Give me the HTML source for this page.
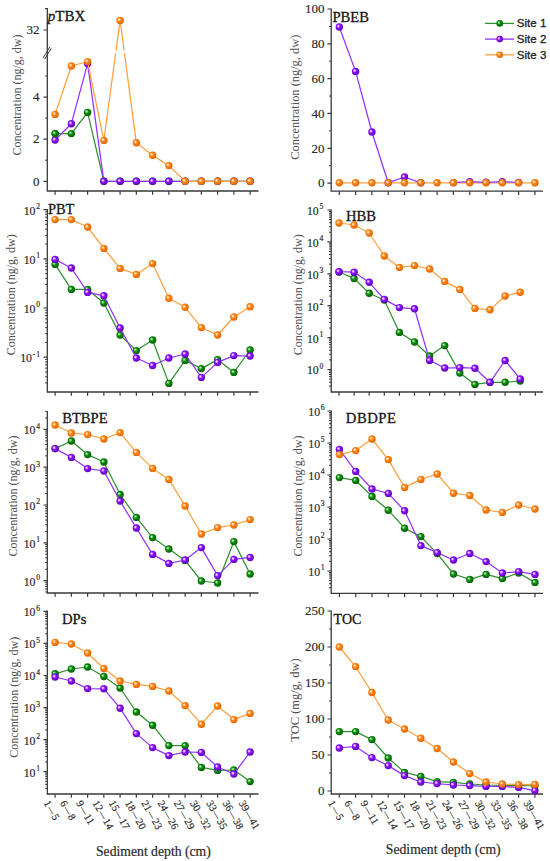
<!DOCTYPE html><html><head><meta charset="utf-8"><style>html,body{margin:0;padding:0;background:#fff;}svg{display:block;}</style></head><body>
<svg width="550" height="861" viewBox="0 0 550 861" font-family='"Liberation Serif", serif' fill="#262626">
<style>.t{fill:#2a2a2a;stroke:#2a2a2a;stroke-width:0.18px}.yt{fill:#505050}.pt{fill:#151515;stroke:#151515;stroke-width:0.3px}.lg{fill:#222;stroke:#222;stroke-width:0.3px}.xt{fill:#2a2a2a;stroke:#2a2a2a;stroke-width:0.2px}</style>
<defs>
<radialGradient id="gG" cx="0.45" cy="0.45" r="0.6" fx="0.34" fy="0.36"><stop offset="0" stop-color="#ffffff"/><stop offset="0.12" stop-color="#9fe09f"/><stop offset="0.42" stop-color="#0c8c0c"/><stop offset="1" stop-color="#005a00"/></radialGradient>
<radialGradient id="gP" cx="0.45" cy="0.45" r="0.6" fx="0.34" fy="0.36"><stop offset="0" stop-color="#ffffff"/><stop offset="0.12" stop-color="#e6c8ff"/><stop offset="0.42" stop-color="#8a12ff"/><stop offset="1" stop-color="#5a00b0"/></radialGradient>
<radialGradient id="gO" cx="0.45" cy="0.45" r="0.6" fx="0.34" fy="0.36"><stop offset="0" stop-color="#ffffff"/><stop offset="0.12" stop-color="#ffe2c0"/><stop offset="0.42" stop-color="#ff8410"/><stop offset="1" stop-color="#e06000"/></radialGradient>
</defs>
<rect width="550" height="861" fill="#fff"/>
<path d="M47.3 8V191H258.5" fill="none" stroke="#3a3a3a" stroke-width="1.3"/>
<path d="M55.1 191v3.8M71.35 191v3.8M87.6 191v3.8M103.85 191v3.8M120.1 191v3.8M136.35 191v3.8M152.6 191v3.8M168.85 191v3.8M185.1 191v3.8M201.35 191v3.8M217.6 191v3.8M233.85 191v3.8M250.1 191v3.8" stroke="#3a3a3a" stroke-width="1.2"/>
<path d="M47.3 181.3h-3.8M47.3 139.2h-3.8M47.3 97.1h-3.8M47.3 30h-3.8" stroke="#3a3a3a" stroke-width="1.2"/>
<path d="M47.3 160.2h-2.2M47.3 118.1h-2.2M47.3 76h-2.2" stroke="#3a3a3a" stroke-width="1"/>
<text class="t" x="39.4" y="185.59" font-size="13" text-anchor="end">0</text>
<text class="t" x="39.4" y="143.49" font-size="13" text-anchor="end">2</text>
<text class="t" x="39.4" y="101.39" font-size="13" text-anchor="end">4</text>
<text class="t" x="39.4" y="34.29" font-size="13" text-anchor="end">32</text>
<text transform="translate(21 95) rotate(-90)" font-size="12" text-anchor="middle" class="yt">Concentration (ng/g, dw)</text>
<text class="pt" x="47.8" y="21.2" font-size="15" letter-spacing="0"><tspan font-style="italic">p</tspan><tspan font-style="normal">TBX</tspan></text>
<path d="M55.1 133.6 L71.35 133.6 L87.6 112.4 L103.85 181.3 L120.1 181.3 L136.35 181.3 L152.6 181.3 L168.85 181.3 L185.1 181.3 L201.35 181.3 L217.6 181.3 L233.85 181.3 L250.1 181.3" fill="none" stroke="#2f922f" stroke-width="1.25" stroke-linejoin="round"/>
<circle cx="55.1" cy="133.6" r="3.7" fill="url(#gG)"/>
<circle cx="71.35" cy="133.6" r="3.7" fill="url(#gG)"/>
<circle cx="87.6" cy="112.4" r="3.7" fill="url(#gG)"/>
<circle cx="103.85" cy="181.3" r="3.7" fill="url(#gG)"/>
<circle cx="120.1" cy="181.3" r="3.7" fill="url(#gG)"/>
<circle cx="136.35" cy="181.3" r="3.7" fill="url(#gG)"/>
<circle cx="152.6" cy="181.3" r="3.7" fill="url(#gG)"/>
<circle cx="168.85" cy="181.3" r="3.7" fill="url(#gG)"/>
<circle cx="185.1" cy="181.3" r="3.7" fill="url(#gG)"/>
<circle cx="201.35" cy="181.3" r="3.7" fill="url(#gG)"/>
<circle cx="217.6" cy="181.3" r="3.7" fill="url(#gG)"/>
<circle cx="233.85" cy="181.3" r="3.7" fill="url(#gG)"/>
<circle cx="250.1" cy="181.3" r="3.7" fill="url(#gG)"/>
<path d="M55.1 140 L71.35 123.7 L87.6 63.6 L103.85 181.3 L120.1 181.3 L136.35 181.3 L152.6 181.3 L168.85 181.3 L185.1 181.3 L201.35 181.3 L217.6 181.3 L233.85 181.3 L250.1 181.3" fill="none" stroke="#9233ff" stroke-width="1.25" stroke-linejoin="round"/>
<circle cx="55.1" cy="140" r="3.7" fill="url(#gP)"/>
<circle cx="71.35" cy="123.7" r="3.7" fill="url(#gP)"/>
<circle cx="87.6" cy="63.6" r="3.7" fill="url(#gP)"/>
<circle cx="103.85" cy="181.3" r="3.7" fill="url(#gP)"/>
<circle cx="120.1" cy="181.3" r="3.7" fill="url(#gP)"/>
<circle cx="136.35" cy="181.3" r="3.7" fill="url(#gP)"/>
<circle cx="152.6" cy="181.3" r="3.7" fill="url(#gP)"/>
<circle cx="168.85" cy="181.3" r="3.7" fill="url(#gP)"/>
<circle cx="185.1" cy="181.3" r="3.7" fill="url(#gP)"/>
<circle cx="201.35" cy="181.3" r="3.7" fill="url(#gP)"/>
<circle cx="217.6" cy="181.3" r="3.7" fill="url(#gP)"/>
<circle cx="233.85" cy="181.3" r="3.7" fill="url(#gP)"/>
<circle cx="250.1" cy="181.3" r="3.7" fill="url(#gP)"/>
<path d="M55.1 114.4 L71.35 66 L87.6 61.6 L103.85 140.4 L120.1 20.4 L136.35 142.8 L152.6 155.2 L168.85 165.6 L185.1 181.3 L201.35 181.3 L217.6 181.3 L233.85 181.3 L250.1 181.3" fill="none" stroke="#ffa040" stroke-width="1.25" stroke-linejoin="round"/>
<circle cx="55.1" cy="114.4" r="3.7" fill="url(#gO)"/>
<circle cx="71.35" cy="66" r="3.7" fill="url(#gO)"/>
<circle cx="87.6" cy="61.6" r="3.7" fill="url(#gO)"/>
<circle cx="103.85" cy="140.4" r="3.7" fill="url(#gO)"/>
<circle cx="120.1" cy="20.4" r="3.7" fill="url(#gO)"/>
<circle cx="136.35" cy="142.8" r="3.7" fill="url(#gO)"/>
<circle cx="152.6" cy="155.2" r="3.7" fill="url(#gO)"/>
<circle cx="168.85" cy="165.6" r="3.7" fill="url(#gO)"/>
<circle cx="185.1" cy="181.3" r="3.7" fill="url(#gO)"/>
<circle cx="201.35" cy="181.3" r="3.7" fill="url(#gO)"/>
<circle cx="217.6" cy="181.3" r="3.7" fill="url(#gO)"/>
<circle cx="233.85" cy="181.3" r="3.7" fill="url(#gO)"/>
<circle cx="250.1" cy="181.3" r="3.7" fill="url(#gO)"/>
<circle cx="55.1" cy="133.6" r="3.7" fill="url(#gG)"/>
<path d="M43.2 57.8L49.8 47M44.6 59.2L51.2 48.4" stroke="#3a3a3a" stroke-width="1"/>
<path d="M45 8.6H47.3" stroke="#3a3a3a" stroke-width="1.2"/>
<rect x="106" y="50.4" width="26" height="2.8" fill="#fff"/>
<path d="M331.2 8.5V191.2H543" fill="none" stroke="#3a3a3a" stroke-width="1.3"/>
<path d="M339.3 191.2v3.8M355.6 191.2v3.8M371.9 191.2v3.8M388.2 191.2v3.8M404.5 191.2v3.8M420.8 191.2v3.8M437.1 191.2v3.8M453.4 191.2v3.8M469.7 191.2v3.8M486 191.2v3.8M502.3 191.2v3.8M518.6 191.2v3.8M534.9 191.2v3.8" stroke="#3a3a3a" stroke-width="1.2"/>
<path d="M331.2 183.1h-3.8M331.2 148.28h-3.8M331.2 113.46h-3.8M331.2 78.64h-3.8M331.2 43.82h-3.8M331.2 9h-3.8" stroke="#3a3a3a" stroke-width="1.2"/>
<path d="M331.2 165.69h-2.2M331.2 130.87h-2.2M331.2 96.05h-2.2M331.2 61.23h-2.2M331.2 26.41h-2.2" stroke="#3a3a3a" stroke-width="1"/>
<text class="t" x="324.6" y="187.39" font-size="13" text-anchor="end">0</text>
<text class="t" x="324.6" y="152.57" font-size="13" text-anchor="end">20</text>
<text class="t" x="324.6" y="117.75" font-size="13" text-anchor="end">40</text>
<text class="t" x="324.6" y="82.93" font-size="13" text-anchor="end">60</text>
<text class="t" x="324.6" y="48.11" font-size="13" text-anchor="end">80</text>
<text class="t" x="324.6" y="13.29" font-size="13" text-anchor="end">100</text>
<text transform="translate(299 97.2) rotate(-90)" font-size="12.4" text-anchor="middle" class="yt">Concentration (ng/g, dw)</text>
<text class="pt" x="332.4" y="22" font-size="14.6" letter-spacing="0"><tspan font-style="normal">PBEB</tspan></text>
<path d="M339.3 182.8 L355.6 182.8 L371.9 182.8 L388.2 182.8 L404.5 182.8 L420.8 182.8 L437.1 182.8 L453.4 182.8 L469.7 182.8 L486 182.8 L502.3 182.8 L518.6 182.8 L534.9 182.8" fill="none" stroke="#ffa040" stroke-width="1.25" stroke-linejoin="round"/>
<path d="M339.3 27 L355.6 71.4 L371.9 132 L388.2 182.8 L404.5 177 L420.8 182.8M453.4 182.6 L469.7 181.6 L486 182.3 L502.3 181.6 L518.6 182.5" fill="none" stroke="#9233ff" stroke-width="1.25" stroke-linejoin="round"/>
<circle cx="339.3" cy="27" r="3.7" fill="url(#gP)"/>
<circle cx="355.6" cy="71.4" r="3.7" fill="url(#gP)"/>
<circle cx="371.9" cy="132" r="3.7" fill="url(#gP)"/>
<circle cx="388.2" cy="182.8" r="3.7" fill="url(#gP)"/>
<circle cx="404.5" cy="177" r="3.7" fill="url(#gP)"/>
<circle cx="420.8" cy="182.8" r="3.7" fill="url(#gP)"/>
<circle cx="453.4" cy="182.6" r="3.7" fill="url(#gP)"/>
<circle cx="469.7" cy="181.6" r="3.7" fill="url(#gP)"/>
<circle cx="486" cy="182.3" r="3.7" fill="url(#gP)"/>
<circle cx="502.3" cy="181.6" r="3.7" fill="url(#gP)"/>
<circle cx="518.6" cy="182.5" r="3.7" fill="url(#gP)"/>
<circle cx="339.3" cy="182.8" r="3.7" fill="url(#gO)"/>
<circle cx="355.6" cy="182.8" r="3.7" fill="url(#gO)"/>
<circle cx="371.9" cy="182.8" r="3.7" fill="url(#gO)"/>
<circle cx="388.2" cy="182.8" r="3.7" fill="url(#gO)"/>
<circle cx="404.5" cy="182.8" r="3.7" fill="url(#gO)"/>
<circle cx="420.8" cy="182.8" r="3.7" fill="url(#gO)"/>
<circle cx="437.1" cy="182.8" r="3.7" fill="url(#gO)"/>
<circle cx="453.4" cy="182.8" r="3.7" fill="url(#gO)"/>
<circle cx="469.7" cy="182.8" r="3.7" fill="url(#gO)"/>
<circle cx="486" cy="182.8" r="3.7" fill="url(#gO)"/>
<circle cx="502.3" cy="182.8" r="3.7" fill="url(#gO)"/>
<circle cx="518.6" cy="182.8" r="3.7" fill="url(#gO)"/>
<circle cx="534.9" cy="182.8" r="3.7" fill="url(#gO)"/>
<path d="M485 23.4H514" stroke="#2f922f" stroke-width="1.3"/>
<circle cx="499.7" cy="23.4" r="3.3" fill="url(#gG)"/>
<text class="lg" x="516.8" y="27.3" font-family='"Liberation Sans", sans-serif' font-size="11.5" letter-spacing="0.05">Site 1</text>
<path d="M485 39.1H514" stroke="#9233ff" stroke-width="1.3"/>
<circle cx="499.7" cy="39.1" r="3.3" fill="url(#gP)"/>
<text class="lg" x="516.8" y="43" font-family='"Liberation Sans", sans-serif' font-size="11.5" letter-spacing="0.05">Site 2</text>
<path d="M485 54.8H514" stroke="#ffa040" stroke-width="1.3"/>
<circle cx="499.7" cy="54.8" r="3.3" fill="url(#gO)"/>
<text class="lg" x="516.8" y="58.7" font-family='"Liberation Sans", sans-serif' font-size="11.5" letter-spacing="0.05">Site 3</text>
<path d="M47.3 209V392H258.5" fill="none" stroke="#3a3a3a" stroke-width="1.3"/>
<path d="M55.1 392v3.8M71.35 392v3.8M87.6 392v3.8M103.85 392v3.8M120.1 392v3.8M136.35 392v3.8M152.6 392v3.8M168.85 392v3.8M185.1 392v3.8M201.35 392v3.8M217.6 392v3.8M233.85 392v3.8M250.1 392v3.8" stroke="#3a3a3a" stroke-width="1.2"/>
<path d="M47.3 209.6h-3.8M47.3 258.8h-3.8M47.3 308h-3.8M47.3 357.2h-3.8" stroke="#3a3a3a" stroke-width="1.2"/>
<path d="M47.3 243.99h-2.2M47.3 235.33h-2.2M47.3 229.18h-2.2M47.3 224.41h-2.2M47.3 220.51h-2.2M47.3 217.22h-2.2M47.3 214.37h-2.2M47.3 211.85h-2.2M47.3 293.19h-2.2M47.3 284.53h-2.2M47.3 278.38h-2.2M47.3 273.61h-2.2M47.3 269.71h-2.2M47.3 266.42h-2.2M47.3 263.57h-2.2M47.3 261.05h-2.2M47.3 342.39h-2.2M47.3 333.73h-2.2M47.3 327.58h-2.2M47.3 322.81h-2.2M47.3 318.91h-2.2M47.3 315.62h-2.2M47.3 312.77h-2.2M47.3 310.25h-2.2M47.3 382.93h-2.2M47.3 376.78h-2.2M47.3 372.01h-2.2M47.3 368.11h-2.2M47.3 364.82h-2.2M47.3 361.97h-2.2M47.3 359.45h-2.2" stroke="#3a3a3a" stroke-width="1"/>
<text class="t" transform="translate(40 214.54) scale(1 1.14)" font-size="11.8" text-anchor="end">10<tspan font-size="7.7" dx="0.7" dy="-4.9">2</tspan></text>
<text class="t" transform="translate(40 263.74) scale(1 1.14)" font-size="11.8" text-anchor="end">10<tspan font-size="7.7" dx="0.7" dy="-4.9">1</tspan></text>
<text class="t" transform="translate(40 312.94) scale(1 1.14)" font-size="11.8" text-anchor="end">10<tspan font-size="7.7" dx="0.7" dy="-4.9">0</tspan></text>
<text class="t" transform="translate(40 362.14) scale(1 1.14)" font-size="11.8" text-anchor="end">10<tspan font-size="7.7" dx="0.7" dy="-4.9"><tspan font-size="7">-</tspan><tspan dx="1.2">1</tspan></tspan></text>
<text transform="translate(15.2 294.8) rotate(-90)" font-size="12" text-anchor="middle" class="yt">Concentration (ng/g, dw)</text>
<text class="pt" x="48" y="214" font-size="14.4" letter-spacing="0"><tspan font-style="normal">PBT</tspan></text>
<path d="M55.1 264.4 L71.35 289.4 L87.6 289.4 L103.85 303 L120.1 335 L136.35 350.6 L152.6 340 L168.85 383.4 L185.1 360.4 L201.35 368.6 L217.6 359.6 L233.85 372.4 L250.1 350" fill="none" stroke="#2f922f" stroke-width="1.25" stroke-linejoin="round"/>
<circle cx="55.1" cy="264.4" r="3.7" fill="url(#gG)"/>
<circle cx="71.35" cy="289.4" r="3.7" fill="url(#gG)"/>
<circle cx="87.6" cy="289.4" r="3.7" fill="url(#gG)"/>
<circle cx="103.85" cy="303" r="3.7" fill="url(#gG)"/>
<circle cx="120.1" cy="335" r="3.7" fill="url(#gG)"/>
<circle cx="136.35" cy="350.6" r="3.7" fill="url(#gG)"/>
<circle cx="152.6" cy="340" r="3.7" fill="url(#gG)"/>
<circle cx="168.85" cy="383.4" r="3.7" fill="url(#gG)"/>
<circle cx="185.1" cy="360.4" r="3.7" fill="url(#gG)"/>
<circle cx="201.35" cy="368.6" r="3.7" fill="url(#gG)"/>
<circle cx="217.6" cy="359.6" r="3.7" fill="url(#gG)"/>
<circle cx="233.85" cy="372.4" r="3.7" fill="url(#gG)"/>
<circle cx="250.1" cy="350" r="3.7" fill="url(#gG)"/>
<path d="M55.1 259.4 L71.35 268 L87.6 292.4 L103.85 295.8 L120.1 328 L136.35 358 L152.6 365.5 L168.85 358 L185.1 354 L201.35 377.4 L217.6 362.4 L233.85 355.6 L250.1 356" fill="none" stroke="#9233ff" stroke-width="1.25" stroke-linejoin="round"/>
<circle cx="55.1" cy="259.4" r="3.7" fill="url(#gP)"/>
<circle cx="71.35" cy="268" r="3.7" fill="url(#gP)"/>
<circle cx="87.6" cy="292.4" r="3.7" fill="url(#gP)"/>
<circle cx="103.85" cy="295.8" r="3.7" fill="url(#gP)"/>
<circle cx="120.1" cy="328" r="3.7" fill="url(#gP)"/>
<circle cx="136.35" cy="358" r="3.7" fill="url(#gP)"/>
<circle cx="152.6" cy="365.5" r="3.7" fill="url(#gP)"/>
<circle cx="168.85" cy="358" r="3.7" fill="url(#gP)"/>
<circle cx="185.1" cy="354" r="3.7" fill="url(#gP)"/>
<circle cx="201.35" cy="377.4" r="3.7" fill="url(#gP)"/>
<circle cx="217.6" cy="362.4" r="3.7" fill="url(#gP)"/>
<circle cx="233.85" cy="355.6" r="3.7" fill="url(#gP)"/>
<circle cx="250.1" cy="356" r="3.7" fill="url(#gP)"/>
<path d="M55.1 219.6 L71.35 219.6 L87.6 227 L103.85 248.4 L120.1 268.4 L136.35 274.4 L152.6 263.6 L168.85 298.2 L185.1 307.3 L201.35 327.6 L217.6 335 L233.85 317 L250.1 306.8" fill="none" stroke="#ffa040" stroke-width="1.25" stroke-linejoin="round"/>
<circle cx="55.1" cy="219.6" r="3.7" fill="url(#gO)"/>
<circle cx="71.35" cy="219.6" r="3.7" fill="url(#gO)"/>
<circle cx="87.6" cy="227" r="3.7" fill="url(#gO)"/>
<circle cx="103.85" cy="248.4" r="3.7" fill="url(#gO)"/>
<circle cx="120.1" cy="268.4" r="3.7" fill="url(#gO)"/>
<circle cx="136.35" cy="274.4" r="3.7" fill="url(#gO)"/>
<circle cx="152.6" cy="263.6" r="3.7" fill="url(#gO)"/>
<circle cx="168.85" cy="298.2" r="3.7" fill="url(#gO)"/>
<circle cx="185.1" cy="307.3" r="3.7" fill="url(#gO)"/>
<circle cx="201.35" cy="327.6" r="3.7" fill="url(#gO)"/>
<circle cx="217.6" cy="335" r="3.7" fill="url(#gO)"/>
<circle cx="233.85" cy="317" r="3.7" fill="url(#gO)"/>
<circle cx="250.1" cy="306.8" r="3.7" fill="url(#gO)"/>
<path d="M331.2 209.4V392H543" fill="none" stroke="#3a3a3a" stroke-width="1.3"/>
<path d="M339 392v3.8M354.1 392v3.8M369.2 392v3.8M384.3 392v3.8M399.4 392v3.8M414.5 392v3.8M429.6 392v3.8M444.7 392v3.8M459.8 392v3.8M474.9 392v3.8M490 392v3.8M505.1 392v3.8M520.2 392v3.8M535.3 392v3.8" stroke="#3a3a3a" stroke-width="1.2"/>
<path d="M331.2 210h-3.8M331.2 241.9h-3.8M331.2 273.8h-3.8M331.2 305.7h-3.8M331.2 337.6h-3.8M331.2 369.5h-3.8" stroke="#3a3a3a" stroke-width="1.2"/>
<path d="M331.2 232.3h-2.2M331.2 226.68h-2.2M331.2 222.69h-2.2M331.2 219.6h-2.2M331.2 217.08h-2.2M331.2 214.94h-2.2M331.2 213.09h-2.2M331.2 211.46h-2.2M331.2 264.2h-2.2M331.2 258.58h-2.2M331.2 254.59h-2.2M331.2 251.5h-2.2M331.2 248.98h-2.2M331.2 246.84h-2.2M331.2 244.99h-2.2M331.2 243.36h-2.2M331.2 296.1h-2.2M331.2 290.48h-2.2M331.2 286.49h-2.2M331.2 283.4h-2.2M331.2 280.88h-2.2M331.2 278.74h-2.2M331.2 276.89h-2.2M331.2 275.26h-2.2M331.2 328h-2.2M331.2 322.38h-2.2M331.2 318.39h-2.2M331.2 315.3h-2.2M331.2 312.78h-2.2M331.2 310.64h-2.2M331.2 308.79h-2.2M331.2 307.16h-2.2M331.2 359.9h-2.2M331.2 354.28h-2.2M331.2 350.29h-2.2M331.2 347.2h-2.2M331.2 344.68h-2.2M331.2 342.54h-2.2M331.2 340.69h-2.2M331.2 339.06h-2.2M331.2 386.18h-2.2M331.2 382.19h-2.2M331.2 379.1h-2.2M331.2 376.58h-2.2M331.2 374.44h-2.2M331.2 372.59h-2.2M331.2 370.96h-2.2" stroke="#3a3a3a" stroke-width="1"/>
<text class="t" transform="translate(323.3 214.94) scale(1 1.14)" font-size="11.8" text-anchor="end">10<tspan font-size="7.7" dx="0.7" dy="-4.9">5</tspan></text>
<text class="t" transform="translate(323.3 246.84) scale(1 1.14)" font-size="11.8" text-anchor="end">10<tspan font-size="7.7" dx="0.7" dy="-4.9">4</tspan></text>
<text class="t" transform="translate(323.3 278.74) scale(1 1.14)" font-size="11.8" text-anchor="end">10<tspan font-size="7.7" dx="0.7" dy="-4.9">3</tspan></text>
<text class="t" transform="translate(323.3 310.64) scale(1 1.14)" font-size="11.8" text-anchor="end">10<tspan font-size="7.7" dx="0.7" dy="-4.9">2</tspan></text>
<text class="t" transform="translate(323.3 342.54) scale(1 1.14)" font-size="11.8" text-anchor="end">10<tspan font-size="7.7" dx="0.7" dy="-4.9">1</tspan></text>
<text class="t" transform="translate(323.3 374.44) scale(1 1.14)" font-size="11.8" text-anchor="end">10<tspan font-size="7.7" dx="0.7" dy="-4.9">0</tspan></text>
<text transform="translate(302 294.8) rotate(-90)" font-size="12" text-anchor="middle" class="yt">Concentration (ng/g, dw)</text>
<text class="pt" x="346" y="221" font-size="14.6" letter-spacing="0"><tspan font-style="normal">HBB</tspan></text>
<path d="M339 272 L354.1 278.4 L369.2 293.2 L384.3 300 L399.4 332.4 L414.5 342 L429.6 356 L444.7 345.6 L459.8 373 L474.9 384.4 L490 382.4 L505.1 382.3 L520.2 381" fill="none" stroke="#2f922f" stroke-width="1.25" stroke-linejoin="round"/>
<circle cx="339" cy="272" r="3.7" fill="url(#gG)"/>
<circle cx="354.1" cy="278.4" r="3.7" fill="url(#gG)"/>
<circle cx="369.2" cy="293.2" r="3.7" fill="url(#gG)"/>
<circle cx="384.3" cy="300" r="3.7" fill="url(#gG)"/>
<circle cx="399.4" cy="332.4" r="3.7" fill="url(#gG)"/>
<circle cx="414.5" cy="342" r="3.7" fill="url(#gG)"/>
<circle cx="429.6" cy="356" r="3.7" fill="url(#gG)"/>
<circle cx="444.7" cy="345.6" r="3.7" fill="url(#gG)"/>
<circle cx="459.8" cy="373" r="3.7" fill="url(#gG)"/>
<circle cx="474.9" cy="384.4" r="3.7" fill="url(#gG)"/>
<circle cx="490" cy="382.4" r="3.7" fill="url(#gG)"/>
<circle cx="505.1" cy="382.3" r="3.7" fill="url(#gG)"/>
<circle cx="520.2" cy="381" r="3.7" fill="url(#gG)"/>
<path d="M339 271.7 L354.1 272.2 L369.2 282.3 L384.3 299.4 L399.4 307.6 L414.5 308.8 L429.6 360.4 L444.7 368 L459.8 367.6 L474.9 368.2 L490 382.3 L505.1 360.5 L520.2 379" fill="none" stroke="#9233ff" stroke-width="1.25" stroke-linejoin="round"/>
<circle cx="339" cy="271.7" r="3.7" fill="url(#gP)"/>
<circle cx="354.1" cy="272.2" r="3.7" fill="url(#gP)"/>
<circle cx="369.2" cy="282.3" r="3.7" fill="url(#gP)"/>
<circle cx="384.3" cy="299.4" r="3.7" fill="url(#gP)"/>
<circle cx="399.4" cy="307.6" r="3.7" fill="url(#gP)"/>
<circle cx="414.5" cy="308.8" r="3.7" fill="url(#gP)"/>
<circle cx="429.6" cy="360.4" r="3.7" fill="url(#gP)"/>
<circle cx="444.7" cy="368" r="3.7" fill="url(#gP)"/>
<circle cx="459.8" cy="367.6" r="3.7" fill="url(#gP)"/>
<circle cx="474.9" cy="368.2" r="3.7" fill="url(#gP)"/>
<circle cx="490" cy="382.3" r="3.7" fill="url(#gP)"/>
<circle cx="505.1" cy="360.5" r="3.7" fill="url(#gP)"/>
<circle cx="520.2" cy="379" r="3.7" fill="url(#gP)"/>
<path d="M339 223 L354.1 225 L369.2 233 L384.3 256 L399.4 267.4 L414.5 265.6 L429.6 269 L444.7 281.4 L459.8 289.4 L474.9 308.4 L490 309.8 L505.1 296 L520.2 292.2" fill="none" stroke="#ffa040" stroke-width="1.25" stroke-linejoin="round"/>
<circle cx="339" cy="223" r="3.7" fill="url(#gO)"/>
<circle cx="354.1" cy="225" r="3.7" fill="url(#gO)"/>
<circle cx="369.2" cy="233" r="3.7" fill="url(#gO)"/>
<circle cx="384.3" cy="256" r="3.7" fill="url(#gO)"/>
<circle cx="399.4" cy="267.4" r="3.7" fill="url(#gO)"/>
<circle cx="414.5" cy="265.6" r="3.7" fill="url(#gO)"/>
<circle cx="429.6" cy="269" r="3.7" fill="url(#gO)"/>
<circle cx="444.7" cy="281.4" r="3.7" fill="url(#gO)"/>
<circle cx="459.8" cy="289.4" r="3.7" fill="url(#gO)"/>
<circle cx="474.9" cy="308.4" r="3.7" fill="url(#gO)"/>
<circle cx="490" cy="309.8" r="3.7" fill="url(#gO)"/>
<circle cx="505.1" cy="296" r="3.7" fill="url(#gO)"/>
<circle cx="520.2" cy="292.2" r="3.7" fill="url(#gO)"/>
<path d="M47.3 411V593H258.5" fill="none" stroke="#3a3a3a" stroke-width="1.3"/>
<path d="M55.1 593v3.8M71.35 593v3.8M87.6 593v3.8M103.85 593v3.8M120.1 593v3.8M136.35 593v3.8M152.6 593v3.8M168.85 593v3.8M185.1 593v3.8M201.35 593v3.8M217.6 593v3.8M233.85 593v3.8M250.1 593v3.8" stroke="#3a3a3a" stroke-width="1.2"/>
<path d="M47.3 429.4h-3.8M47.3 467.2h-3.8M47.3 505h-3.8M47.3 542.8h-3.8M47.3 580.6h-3.8" stroke="#3a3a3a" stroke-width="1.2"/>
<path d="M47.3 418.02h-2.2M47.3 411.36h-2.2M47.3 455.82h-2.2M47.3 449.16h-2.2M47.3 444.44h-2.2M47.3 440.78h-2.2M47.3 437.79h-2.2M47.3 435.26h-2.2M47.3 433.06h-2.2M47.3 431.13h-2.2M47.3 493.62h-2.2M47.3 486.96h-2.2M47.3 482.24h-2.2M47.3 478.58h-2.2M47.3 475.59h-2.2M47.3 473.06h-2.2M47.3 470.86h-2.2M47.3 468.93h-2.2M47.3 531.42h-2.2M47.3 524.76h-2.2M47.3 520.04h-2.2M47.3 516.38h-2.2M47.3 513.39h-2.2M47.3 510.86h-2.2M47.3 508.66h-2.2M47.3 506.73h-2.2M47.3 569.22h-2.2M47.3 562.56h-2.2M47.3 557.84h-2.2M47.3 554.18h-2.2M47.3 551.19h-2.2M47.3 548.66h-2.2M47.3 546.46h-2.2M47.3 544.53h-2.2M47.3 591.98h-2.2M47.3 588.99h-2.2M47.3 586.46h-2.2M47.3 584.26h-2.2M47.3 582.33h-2.2" stroke="#3a3a3a" stroke-width="1"/>
<text class="t" transform="translate(40 434.34) scale(1 1.14)" font-size="11.8" text-anchor="end">10<tspan font-size="7.7" dx="0.7" dy="-4.9">4</tspan></text>
<text class="t" transform="translate(40 472.14) scale(1 1.14)" font-size="11.8" text-anchor="end">10<tspan font-size="7.7" dx="0.7" dy="-4.9">3</tspan></text>
<text class="t" transform="translate(40 509.94) scale(1 1.14)" font-size="11.8" text-anchor="end">10<tspan font-size="7.7" dx="0.7" dy="-4.9">2</tspan></text>
<text class="t" transform="translate(40 547.74) scale(1 1.14)" font-size="11.8" text-anchor="end">10<tspan font-size="7.7" dx="0.7" dy="-4.9">1</tspan></text>
<text class="t" transform="translate(40 585.54) scale(1 1.14)" font-size="11.8" text-anchor="end">10<tspan font-size="7.7" dx="0.7" dy="-4.9">0</tspan></text>
<text transform="translate(17 496) rotate(-90)" font-size="12" text-anchor="middle" class="yt">Concentration (ng/g, dw)</text>
<text class="pt" x="62.2" y="422.5" font-size="14.6" letter-spacing="0"><tspan font-style="normal">BTBPE</tspan></text>
<path d="M55.1 448.6 L71.35 441 L87.6 454.6 L103.85 462 L120.1 494.5 L136.35 517.4 L152.6 537.6 L168.85 549 L185.1 560.4 L201.35 581 L217.6 583 L233.85 541.6 L250.1 574" fill="none" stroke="#2f922f" stroke-width="1.25" stroke-linejoin="round"/>
<circle cx="55.1" cy="448.6" r="3.7" fill="url(#gG)"/>
<circle cx="71.35" cy="441" r="3.7" fill="url(#gG)"/>
<circle cx="87.6" cy="454.6" r="3.7" fill="url(#gG)"/>
<circle cx="103.85" cy="462" r="3.7" fill="url(#gG)"/>
<circle cx="120.1" cy="494.5" r="3.7" fill="url(#gG)"/>
<circle cx="136.35" cy="517.4" r="3.7" fill="url(#gG)"/>
<circle cx="152.6" cy="537.6" r="3.7" fill="url(#gG)"/>
<circle cx="168.85" cy="549" r="3.7" fill="url(#gG)"/>
<circle cx="185.1" cy="560.4" r="3.7" fill="url(#gG)"/>
<circle cx="201.35" cy="581" r="3.7" fill="url(#gG)"/>
<circle cx="217.6" cy="583" r="3.7" fill="url(#gG)"/>
<circle cx="233.85" cy="541.6" r="3.7" fill="url(#gG)"/>
<circle cx="250.1" cy="574" r="3.7" fill="url(#gG)"/>
<path d="M55.1 448.6 L71.35 457.4 L87.6 468.6 L103.85 471 L120.1 501 L136.35 528 L152.6 554.4 L168.85 563.4 L185.1 560 L201.35 547.6 L217.6 575.6 L233.85 559.4 L250.1 557.4" fill="none" stroke="#9233ff" stroke-width="1.25" stroke-linejoin="round"/>
<circle cx="55.1" cy="448.6" r="3.7" fill="url(#gP)"/>
<circle cx="71.35" cy="457.4" r="3.7" fill="url(#gP)"/>
<circle cx="87.6" cy="468.6" r="3.7" fill="url(#gP)"/>
<circle cx="103.85" cy="471" r="3.7" fill="url(#gP)"/>
<circle cx="120.1" cy="501" r="3.7" fill="url(#gP)"/>
<circle cx="136.35" cy="528" r="3.7" fill="url(#gP)"/>
<circle cx="152.6" cy="554.4" r="3.7" fill="url(#gP)"/>
<circle cx="168.85" cy="563.4" r="3.7" fill="url(#gP)"/>
<circle cx="185.1" cy="560" r="3.7" fill="url(#gP)"/>
<circle cx="201.35" cy="547.6" r="3.7" fill="url(#gP)"/>
<circle cx="217.6" cy="575.6" r="3.7" fill="url(#gP)"/>
<circle cx="233.85" cy="559.4" r="3.7" fill="url(#gP)"/>
<circle cx="250.1" cy="557.4" r="3.7" fill="url(#gP)"/>
<path d="M55.1 425 L71.35 433 L87.6 434.6 L103.85 439 L120.1 432.6 L136.35 452.4 L152.6 468.4 L168.85 479.4 L185.1 506 L201.35 534 L217.6 527.6 L233.85 525 L250.1 519.6" fill="none" stroke="#ffa040" stroke-width="1.25" stroke-linejoin="round"/>
<circle cx="55.1" cy="425" r="3.7" fill="url(#gO)"/>
<circle cx="71.35" cy="433" r="3.7" fill="url(#gO)"/>
<circle cx="87.6" cy="434.6" r="3.7" fill="url(#gO)"/>
<circle cx="103.85" cy="439" r="3.7" fill="url(#gO)"/>
<circle cx="120.1" cy="432.6" r="3.7" fill="url(#gO)"/>
<circle cx="136.35" cy="452.4" r="3.7" fill="url(#gO)"/>
<circle cx="152.6" cy="468.4" r="3.7" fill="url(#gO)"/>
<circle cx="168.85" cy="479.4" r="3.7" fill="url(#gO)"/>
<circle cx="185.1" cy="506" r="3.7" fill="url(#gO)"/>
<circle cx="201.35" cy="534" r="3.7" fill="url(#gO)"/>
<circle cx="217.6" cy="527.6" r="3.7" fill="url(#gO)"/>
<circle cx="233.85" cy="525" r="3.7" fill="url(#gO)"/>
<circle cx="250.1" cy="519.6" r="3.7" fill="url(#gO)"/>
<path d="M331.2 410.6V593.4H543" fill="none" stroke="#3a3a3a" stroke-width="1.3"/>
<path d="M339.4 593.4v3.8M355.7 593.4v3.8M372 593.4v3.8M388.3 593.4v3.8M404.6 593.4v3.8M420.9 593.4v3.8M437.2 593.4v3.8M453.5 593.4v3.8M469.8 593.4v3.8M486.1 593.4v3.8M502.4 593.4v3.8M518.7 593.4v3.8M535 593.4v3.8" stroke="#3a3a3a" stroke-width="1.2"/>
<path d="M331.2 411h-3.8M331.2 443h-3.8M331.2 475h-3.8M331.2 507h-3.8M331.2 539h-3.8M331.2 571h-3.8" stroke="#3a3a3a" stroke-width="1.2"/>
<path d="M331.2 433.37h-2.2M331.2 427.73h-2.2M331.2 423.73h-2.2M331.2 420.63h-2.2M331.2 418.1h-2.2M331.2 415.96h-2.2M331.2 414.1h-2.2M331.2 412.46h-2.2M331.2 465.37h-2.2M331.2 459.73h-2.2M331.2 455.73h-2.2M331.2 452.63h-2.2M331.2 450.1h-2.2M331.2 447.96h-2.2M331.2 446.1h-2.2M331.2 444.46h-2.2M331.2 497.37h-2.2M331.2 491.73h-2.2M331.2 487.73h-2.2M331.2 484.63h-2.2M331.2 482.1h-2.2M331.2 479.96h-2.2M331.2 478.1h-2.2M331.2 476.46h-2.2M331.2 529.37h-2.2M331.2 523.73h-2.2M331.2 519.73h-2.2M331.2 516.63h-2.2M331.2 514.1h-2.2M331.2 511.96h-2.2M331.2 510.1h-2.2M331.2 508.46h-2.2M331.2 561.37h-2.2M331.2 555.73h-2.2M331.2 551.73h-2.2M331.2 548.63h-2.2M331.2 546.1h-2.2M331.2 543.96h-2.2M331.2 542.1h-2.2M331.2 540.46h-2.2M331.2 587.73h-2.2M331.2 583.73h-2.2M331.2 580.63h-2.2M331.2 578.1h-2.2M331.2 575.96h-2.2M331.2 574.1h-2.2M331.2 572.46h-2.2" stroke="#3a3a3a" stroke-width="1"/>
<text class="t" transform="translate(324.6 415.94) scale(1 1.14)" font-size="11.8" text-anchor="end">10<tspan font-size="7.7" dx="0.7" dy="-4.9">6</tspan></text>
<text class="t" transform="translate(324.6 447.94) scale(1 1.14)" font-size="11.8" text-anchor="end">10<tspan font-size="7.7" dx="0.7" dy="-4.9">5</tspan></text>
<text class="t" transform="translate(324.6 479.94) scale(1 1.14)" font-size="11.8" text-anchor="end">10<tspan font-size="7.7" dx="0.7" dy="-4.9">4</tspan></text>
<text class="t" transform="translate(324.6 511.94) scale(1 1.14)" font-size="11.8" text-anchor="end">10<tspan font-size="7.7" dx="0.7" dy="-4.9">3</tspan></text>
<text class="t" transform="translate(324.6 543.94) scale(1 1.14)" font-size="11.8" text-anchor="end">10<tspan font-size="7.7" dx="0.7" dy="-4.9">2</tspan></text>
<text class="t" transform="translate(324.6 575.94) scale(1 1.14)" font-size="11.8" text-anchor="end">10<tspan font-size="7.7" dx="0.7" dy="-4.9">1</tspan></text>
<text transform="translate(302 496) rotate(-90)" font-size="12" text-anchor="middle" class="yt">Concentration (ng/g, dw)</text>
<text class="pt" x="345.8" y="422.5" font-size="14.6" letter-spacing="0.55"><tspan font-style="normal">DBDPE</tspan></text>
<path d="M339.4 477.6 L355.7 480.4 L372 496.5 L388.3 510.2 L404.6 528.2 L420.9 536.6 L437.2 553.6 L453.5 574 L469.8 579.4 L486.1 574.4 L502.4 578.6 L518.7 573 L535 582.4" fill="none" stroke="#2f922f" stroke-width="1.25" stroke-linejoin="round"/>
<circle cx="339.4" cy="477.6" r="3.7" fill="url(#gG)"/>
<circle cx="355.7" cy="480.4" r="3.7" fill="url(#gG)"/>
<circle cx="372" cy="496.5" r="3.7" fill="url(#gG)"/>
<circle cx="388.3" cy="510.2" r="3.7" fill="url(#gG)"/>
<circle cx="404.6" cy="528.2" r="3.7" fill="url(#gG)"/>
<circle cx="420.9" cy="536.6" r="3.7" fill="url(#gG)"/>
<circle cx="437.2" cy="553.6" r="3.7" fill="url(#gG)"/>
<circle cx="453.5" cy="574" r="3.7" fill="url(#gG)"/>
<circle cx="469.8" cy="579.4" r="3.7" fill="url(#gG)"/>
<circle cx="486.1" cy="574.4" r="3.7" fill="url(#gG)"/>
<circle cx="502.4" cy="578.6" r="3.7" fill="url(#gG)"/>
<circle cx="518.7" cy="573" r="3.7" fill="url(#gG)"/>
<circle cx="535" cy="582.4" r="3.7" fill="url(#gG)"/>
<path d="M339.4 449.4 L355.7 471.4 L372 489 L388.3 493.4 L404.6 510.8 L420.9 545.6 L437.2 552.6 L453.5 560 L469.8 553.5 L486.1 561.6 L502.4 573 L518.7 571.6 L535 574.4" fill="none" stroke="#9233ff" stroke-width="1.25" stroke-linejoin="round"/>
<circle cx="339.4" cy="449.4" r="3.7" fill="url(#gP)"/>
<circle cx="355.7" cy="471.4" r="3.7" fill="url(#gP)"/>
<circle cx="372" cy="489" r="3.7" fill="url(#gP)"/>
<circle cx="388.3" cy="493.4" r="3.7" fill="url(#gP)"/>
<circle cx="404.6" cy="510.8" r="3.7" fill="url(#gP)"/>
<circle cx="420.9" cy="545.6" r="3.7" fill="url(#gP)"/>
<circle cx="437.2" cy="552.6" r="3.7" fill="url(#gP)"/>
<circle cx="453.5" cy="560" r="3.7" fill="url(#gP)"/>
<circle cx="469.8" cy="553.5" r="3.7" fill="url(#gP)"/>
<circle cx="486.1" cy="561.6" r="3.7" fill="url(#gP)"/>
<circle cx="502.4" cy="573" r="3.7" fill="url(#gP)"/>
<circle cx="518.7" cy="571.6" r="3.7" fill="url(#gP)"/>
<circle cx="535" cy="574.4" r="3.7" fill="url(#gP)"/>
<path d="M339.4 454.6 L355.7 450.6 L372 439 L388.3 459.6 L404.6 487.4 L420.9 479.4 L437.2 474 L453.5 493.2 L469.8 495.5 L486.1 510 L502.4 512.4 L518.7 505 L535 509" fill="none" stroke="#ffa040" stroke-width="1.25" stroke-linejoin="round"/>
<circle cx="339.4" cy="454.6" r="3.7" fill="url(#gO)"/>
<circle cx="355.7" cy="450.6" r="3.7" fill="url(#gO)"/>
<circle cx="372" cy="439" r="3.7" fill="url(#gO)"/>
<circle cx="388.3" cy="459.6" r="3.7" fill="url(#gO)"/>
<circle cx="404.6" cy="487.4" r="3.7" fill="url(#gO)"/>
<circle cx="420.9" cy="479.4" r="3.7" fill="url(#gO)"/>
<circle cx="437.2" cy="474" r="3.7" fill="url(#gO)"/>
<circle cx="453.5" cy="493.2" r="3.7" fill="url(#gO)"/>
<circle cx="469.8" cy="495.5" r="3.7" fill="url(#gO)"/>
<circle cx="486.1" cy="510" r="3.7" fill="url(#gO)"/>
<circle cx="502.4" cy="512.4" r="3.7" fill="url(#gO)"/>
<circle cx="518.7" cy="505" r="3.7" fill="url(#gO)"/>
<circle cx="535" cy="509" r="3.7" fill="url(#gO)"/>
<path d="M47.3 610.6V794H258.5" fill="none" stroke="#3a3a3a" stroke-width="1.3"/>
<path d="M55.1 794v3.8M71.35 794v3.8M87.6 794v3.8M103.85 794v3.8M120.1 794v3.8M136.35 794v3.8M152.6 794v3.8M168.85 794v3.8M185.1 794v3.8M201.35 794v3.8M217.6 794v3.8M233.85 794v3.8M250.1 794v3.8" stroke="#3a3a3a" stroke-width="1.2"/>
<path d="M47.3 611.4h-3.8M47.3 643.45h-3.8M47.3 675.5h-3.8M47.3 707.55h-3.8M47.3 739.6h-3.8M47.3 771.65h-3.8" stroke="#3a3a3a" stroke-width="1.2"/>
<path d="M47.3 633.8h-2.2M47.3 628.16h-2.2M47.3 624.15h-2.2M47.3 621.05h-2.2M47.3 618.51h-2.2M47.3 616.36h-2.2M47.3 614.51h-2.2M47.3 612.87h-2.2M47.3 665.85h-2.2M47.3 660.21h-2.2M47.3 656.2h-2.2M47.3 653.1h-2.2M47.3 650.56h-2.2M47.3 648.41h-2.2M47.3 646.56h-2.2M47.3 644.92h-2.2M47.3 697.9h-2.2M47.3 692.26h-2.2M47.3 688.25h-2.2M47.3 685.15h-2.2M47.3 682.61h-2.2M47.3 680.46h-2.2M47.3 678.61h-2.2M47.3 676.97h-2.2M47.3 729.95h-2.2M47.3 724.31h-2.2M47.3 720.3h-2.2M47.3 717.2h-2.2M47.3 714.66h-2.2M47.3 712.51h-2.2M47.3 710.66h-2.2M47.3 709.02h-2.2M47.3 762h-2.2M47.3 756.36h-2.2M47.3 752.35h-2.2M47.3 749.25h-2.2M47.3 746.71h-2.2M47.3 744.56h-2.2M47.3 742.71h-2.2M47.3 741.07h-2.2M47.3 788.41h-2.2M47.3 784.4h-2.2M47.3 781.3h-2.2M47.3 778.76h-2.2M47.3 776.61h-2.2M47.3 774.76h-2.2M47.3 773.12h-2.2" stroke="#3a3a3a" stroke-width="1"/>
<text class="t" transform="translate(40 616.34) scale(1 1.14)" font-size="11.8" text-anchor="end">10<tspan font-size="7.7" dx="0.7" dy="-4.9">6</tspan></text>
<text class="t" transform="translate(40 648.39) scale(1 1.14)" font-size="11.8" text-anchor="end">10<tspan font-size="7.7" dx="0.7" dy="-4.9">5</tspan></text>
<text class="t" transform="translate(40 680.44) scale(1 1.14)" font-size="11.8" text-anchor="end">10<tspan font-size="7.7" dx="0.7" dy="-4.9">4</tspan></text>
<text class="t" transform="translate(40 712.49) scale(1 1.14)" font-size="11.8" text-anchor="end">10<tspan font-size="7.7" dx="0.7" dy="-4.9">3</tspan></text>
<text class="t" transform="translate(40 744.54) scale(1 1.14)" font-size="11.8" text-anchor="end">10<tspan font-size="7.7" dx="0.7" dy="-4.9">2</tspan></text>
<text class="t" transform="translate(40 776.59) scale(1 1.14)" font-size="11.8" text-anchor="end">10<tspan font-size="7.7" dx="0.7" dy="-4.9">1</tspan></text>
<text transform="translate(17.5 697.3) rotate(-90)" font-size="12" text-anchor="middle" class="yt">Concentration (ng/g, dw)</text>
<text class="pt" x="62" y="623.5" font-size="14.6" letter-spacing="0"><tspan font-style="normal">DPs</tspan></text>
<path d="M55.1 673.8 L71.35 669 L87.6 667 L103.85 676.5 L120.1 688 L136.35 712 L152.6 725.2 L168.85 745.6 L185.1 745.6 L201.35 767.4 L217.6 770.4 L233.85 770 L250.1 781.6" fill="none" stroke="#2f922f" stroke-width="1.25" stroke-linejoin="round"/>
<circle cx="55.1" cy="673.8" r="3.7" fill="url(#gG)"/>
<circle cx="71.35" cy="669" r="3.7" fill="url(#gG)"/>
<circle cx="87.6" cy="667" r="3.7" fill="url(#gG)"/>
<circle cx="103.85" cy="676.5" r="3.7" fill="url(#gG)"/>
<circle cx="120.1" cy="688" r="3.7" fill="url(#gG)"/>
<circle cx="136.35" cy="712" r="3.7" fill="url(#gG)"/>
<circle cx="152.6" cy="725.2" r="3.7" fill="url(#gG)"/>
<circle cx="168.85" cy="745.6" r="3.7" fill="url(#gG)"/>
<circle cx="185.1" cy="745.6" r="3.7" fill="url(#gG)"/>
<circle cx="201.35" cy="767.4" r="3.7" fill="url(#gG)"/>
<circle cx="217.6" cy="770.4" r="3.7" fill="url(#gG)"/>
<circle cx="233.85" cy="770" r="3.7" fill="url(#gG)"/>
<circle cx="250.1" cy="781.6" r="3.7" fill="url(#gG)"/>
<path d="M55.1 677 L71.35 681 L87.6 688.6 L103.85 688.8 L120.1 708.2 L136.35 733.6 L152.6 747.6 L168.85 755.6 L185.1 752 L201.35 752.4 L217.6 767 L233.85 774 L250.1 752" fill="none" stroke="#9233ff" stroke-width="1.25" stroke-linejoin="round"/>
<circle cx="55.1" cy="677" r="3.7" fill="url(#gP)"/>
<circle cx="71.35" cy="681" r="3.7" fill="url(#gP)"/>
<circle cx="87.6" cy="688.6" r="3.7" fill="url(#gP)"/>
<circle cx="103.85" cy="688.8" r="3.7" fill="url(#gP)"/>
<circle cx="120.1" cy="708.2" r="3.7" fill="url(#gP)"/>
<circle cx="136.35" cy="733.6" r="3.7" fill="url(#gP)"/>
<circle cx="152.6" cy="747.6" r="3.7" fill="url(#gP)"/>
<circle cx="168.85" cy="755.6" r="3.7" fill="url(#gP)"/>
<circle cx="185.1" cy="752" r="3.7" fill="url(#gP)"/>
<circle cx="201.35" cy="752.4" r="3.7" fill="url(#gP)"/>
<circle cx="217.6" cy="767" r="3.7" fill="url(#gP)"/>
<circle cx="233.85" cy="774" r="3.7" fill="url(#gP)"/>
<circle cx="250.1" cy="752" r="3.7" fill="url(#gP)"/>
<path d="M55.1 642.4 L71.35 644 L87.6 653 L103.85 668.5 L120.1 681 L136.35 684.4 L152.6 686.4 L168.85 691 L185.1 705.6 L201.35 724.2 L217.6 706 L233.85 719.6 L250.1 713.4" fill="none" stroke="#ffa040" stroke-width="1.25" stroke-linejoin="round"/>
<circle cx="55.1" cy="642.4" r="3.7" fill="url(#gO)"/>
<circle cx="71.35" cy="644" r="3.7" fill="url(#gO)"/>
<circle cx="87.6" cy="653" r="3.7" fill="url(#gO)"/>
<circle cx="103.85" cy="668.5" r="3.7" fill="url(#gO)"/>
<circle cx="120.1" cy="681" r="3.7" fill="url(#gO)"/>
<circle cx="136.35" cy="684.4" r="3.7" fill="url(#gO)"/>
<circle cx="152.6" cy="686.4" r="3.7" fill="url(#gO)"/>
<circle cx="168.85" cy="691" r="3.7" fill="url(#gO)"/>
<circle cx="185.1" cy="705.6" r="3.7" fill="url(#gO)"/>
<circle cx="201.35" cy="724.2" r="3.7" fill="url(#gO)"/>
<circle cx="217.6" cy="706" r="3.7" fill="url(#gO)"/>
<circle cx="233.85" cy="719.6" r="3.7" fill="url(#gO)"/>
<circle cx="250.1" cy="713.4" r="3.7" fill="url(#gO)"/>
<path d="M331.2 610.6V794H543" fill="none" stroke="#3a3a3a" stroke-width="1.3"/>
<path d="M339.3 794v3.8M355.6 794v3.8M371.9 794v3.8M388.2 794v3.8M404.5 794v3.8M420.8 794v3.8M437.1 794v3.8M453.4 794v3.8M469.7 794v3.8M486 794v3.8M502.3 794v3.8M518.6 794v3.8M534.9 794v3.8" stroke="#3a3a3a" stroke-width="1.2"/>
<path d="M331.2 791h-3.8M331.2 755h-3.8M331.2 719h-3.8M331.2 683h-3.8M331.2 647h-3.8M331.2 611h-3.8" stroke="#3a3a3a" stroke-width="1.2"/>
<path d="M331.2 773h-2.2M331.2 737h-2.2M331.2 701h-2.2M331.2 665h-2.2M331.2 629h-2.2" stroke="#3a3a3a" stroke-width="1"/>
<text class="t" x="324.6" y="795.29" font-size="13" text-anchor="end">0</text>
<text class="t" x="324.6" y="759.29" font-size="13" text-anchor="end">50</text>
<text class="t" x="324.6" y="723.29" font-size="13" text-anchor="end">100</text>
<text class="t" x="324.6" y="687.29" font-size="13" text-anchor="end">150</text>
<text class="t" x="324.6" y="651.29" font-size="13" text-anchor="end">200</text>
<text class="t" x="324.6" y="615.29" font-size="13" text-anchor="end">250</text>
<text transform="translate(298.5 700) rotate(-90)" font-size="12.5" text-anchor="middle" class="yt">TOC (mg/g, dw)</text>
<text class="pt" x="333.6" y="624.3" font-size="14" letter-spacing="0"><tspan font-style="normal">TOC</tspan></text>
<path d="M339.3 731.6 L355.6 731.6 L371.9 739.6 L388.2 758 L404.5 772.4 L420.8 776.4 L437.1 781.6 L453.4 782.4 L469.7 784 L486 785 L502.3 785.4 L518.6 785.4 L534.9 786" fill="none" stroke="#2f922f" stroke-width="1.25" stroke-linejoin="round"/>
<circle cx="339.3" cy="731.6" r="3.7" fill="url(#gG)"/>
<circle cx="355.6" cy="731.6" r="3.7" fill="url(#gG)"/>
<circle cx="371.9" cy="739.6" r="3.7" fill="url(#gG)"/>
<circle cx="388.2" cy="758" r="3.7" fill="url(#gG)"/>
<circle cx="404.5" cy="772.4" r="3.7" fill="url(#gG)"/>
<circle cx="420.8" cy="776.4" r="3.7" fill="url(#gG)"/>
<circle cx="437.1" cy="781.6" r="3.7" fill="url(#gG)"/>
<circle cx="453.4" cy="782.4" r="3.7" fill="url(#gG)"/>
<circle cx="469.7" cy="784" r="3.7" fill="url(#gG)"/>
<circle cx="486" cy="785" r="3.7" fill="url(#gG)"/>
<circle cx="502.3" cy="785.4" r="3.7" fill="url(#gG)"/>
<circle cx="518.6" cy="785.4" r="3.7" fill="url(#gG)"/>
<circle cx="534.9" cy="786" r="3.7" fill="url(#gG)"/>
<path d="M339.3 748 L355.6 746.4 L371.9 757.6 L388.2 765.6 L404.5 775.6 L420.8 782 L437.1 783.6 L453.4 785 L469.7 785.6 L486 786.4 L502.3 786.4 L518.6 787.4 L534.9 790.6" fill="none" stroke="#9233ff" stroke-width="1.25" stroke-linejoin="round"/>
<circle cx="339.3" cy="748" r="3.7" fill="url(#gP)"/>
<circle cx="355.6" cy="746.4" r="3.7" fill="url(#gP)"/>
<circle cx="371.9" cy="757.6" r="3.7" fill="url(#gP)"/>
<circle cx="388.2" cy="765.6" r="3.7" fill="url(#gP)"/>
<circle cx="404.5" cy="775.6" r="3.7" fill="url(#gP)"/>
<circle cx="420.8" cy="782" r="3.7" fill="url(#gP)"/>
<circle cx="437.1" cy="783.6" r="3.7" fill="url(#gP)"/>
<circle cx="453.4" cy="785" r="3.7" fill="url(#gP)"/>
<circle cx="469.7" cy="785.6" r="3.7" fill="url(#gP)"/>
<circle cx="486" cy="786.4" r="3.7" fill="url(#gP)"/>
<circle cx="502.3" cy="786.4" r="3.7" fill="url(#gP)"/>
<circle cx="518.6" cy="787.4" r="3.7" fill="url(#gP)"/>
<circle cx="534.9" cy="790.6" r="3.7" fill="url(#gP)"/>
<path d="M339.3 647 L355.6 666.6 L371.9 692.5 L388.2 720 L404.5 729 L420.8 738.2 L437.1 748.5 L453.4 762 L469.7 773.6 L486 782 L502.3 784 L518.6 784.6 L534.9 784.4" fill="none" stroke="#ffa040" stroke-width="1.25" stroke-linejoin="round"/>
<circle cx="339.3" cy="647" r="3.7" fill="url(#gO)"/>
<circle cx="355.6" cy="666.6" r="3.7" fill="url(#gO)"/>
<circle cx="371.9" cy="692.5" r="3.7" fill="url(#gO)"/>
<circle cx="388.2" cy="720" r="3.7" fill="url(#gO)"/>
<circle cx="404.5" cy="729" r="3.7" fill="url(#gO)"/>
<circle cx="420.8" cy="738.2" r="3.7" fill="url(#gO)"/>
<circle cx="437.1" cy="748.5" r="3.7" fill="url(#gO)"/>
<circle cx="453.4" cy="762" r="3.7" fill="url(#gO)"/>
<circle cx="469.7" cy="773.6" r="3.7" fill="url(#gO)"/>
<circle cx="486" cy="782" r="3.7" fill="url(#gO)"/>
<circle cx="502.3" cy="784" r="3.7" fill="url(#gO)"/>
<circle cx="518.6" cy="784.6" r="3.7" fill="url(#gO)"/>
<circle cx="534.9" cy="784.4" r="3.7" fill="url(#gO)"/>
<text class="t" transform="translate(43.5 803) rotate(60)" font-size="10.5">1<tspan font-size="8" dx="1.2" dy="-0.6">—</tspan><tspan dx="1.2" dy="0.6">5</tspan></text>
<text class="t" transform="translate(59.75 803) rotate(60)" font-size="10.5">6<tspan font-size="8" dx="1.2" dy="-0.6">—</tspan><tspan dx="1.2" dy="0.6">8</tspan></text>
<text class="t" transform="translate(76 803) rotate(60)" font-size="10.5">9<tspan font-size="8" dx="1.2" dy="-0.6">—</tspan><tspan dx="1.2" dy="0.6">11</tspan></text>
<text class="t" transform="translate(92.25 803) rotate(60)" font-size="10.5">12<tspan font-size="8" dx="1.2" dy="-0.6">—</tspan><tspan dx="1.2" dy="0.6">14</tspan></text>
<text class="t" transform="translate(108.5 803) rotate(60)" font-size="10.5">15<tspan font-size="8" dx="1.2" dy="-0.6">—</tspan><tspan dx="1.2" dy="0.6">17</tspan></text>
<text class="t" transform="translate(124.75 803) rotate(60)" font-size="10.5">18<tspan font-size="8" dx="1.2" dy="-0.6">—</tspan><tspan dx="1.2" dy="0.6">20</tspan></text>
<text class="t" transform="translate(141 803) rotate(60)" font-size="10.5">21<tspan font-size="8" dx="1.2" dy="-0.6">—</tspan><tspan dx="1.2" dy="0.6">23</tspan></text>
<text class="t" transform="translate(157.25 803) rotate(60)" font-size="10.5">24<tspan font-size="8" dx="1.2" dy="-0.6">—</tspan><tspan dx="1.2" dy="0.6">26</tspan></text>
<text class="t" transform="translate(173.5 803) rotate(60)" font-size="10.5">27<tspan font-size="8" dx="1.2" dy="-0.6">—</tspan><tspan dx="1.2" dy="0.6">29</tspan></text>
<text class="t" transform="translate(189.75 803) rotate(60)" font-size="10.5">30<tspan font-size="8" dx="1.2" dy="-0.6">—</tspan><tspan dx="1.2" dy="0.6">32</tspan></text>
<text class="t" transform="translate(206 803) rotate(60)" font-size="10.5">33<tspan font-size="8" dx="1.2" dy="-0.6">—</tspan><tspan dx="1.2" dy="0.6">35</tspan></text>
<text class="t" transform="translate(222.25 803) rotate(60)" font-size="10.5">36<tspan font-size="8" dx="1.2" dy="-0.6">—</tspan><tspan dx="1.2" dy="0.6">38</tspan></text>
<text class="t" transform="translate(238.5 803) rotate(60)" font-size="10.5">39<tspan font-size="8" dx="1.2" dy="-0.6">—</tspan><tspan dx="1.2" dy="0.6">41</tspan></text>
<text class="t" transform="translate(327.7 803) rotate(60)" font-size="10.5">1<tspan font-size="8" dx="1.2" dy="-0.6">—</tspan><tspan dx="1.2" dy="0.6">5</tspan></text>
<text class="t" transform="translate(344 803) rotate(60)" font-size="10.5">6<tspan font-size="8" dx="1.2" dy="-0.6">—</tspan><tspan dx="1.2" dy="0.6">8</tspan></text>
<text class="t" transform="translate(360.3 803) rotate(60)" font-size="10.5">9<tspan font-size="8" dx="1.2" dy="-0.6">—</tspan><tspan dx="1.2" dy="0.6">11</tspan></text>
<text class="t" transform="translate(376.6 803) rotate(60)" font-size="10.5">12<tspan font-size="8" dx="1.2" dy="-0.6">—</tspan><tspan dx="1.2" dy="0.6">14</tspan></text>
<text class="t" transform="translate(392.9 803) rotate(60)" font-size="10.5">15<tspan font-size="8" dx="1.2" dy="-0.6">—</tspan><tspan dx="1.2" dy="0.6">17</tspan></text>
<text class="t" transform="translate(409.2 803) rotate(60)" font-size="10.5">18<tspan font-size="8" dx="1.2" dy="-0.6">—</tspan><tspan dx="1.2" dy="0.6">20</tspan></text>
<text class="t" transform="translate(425.5 803) rotate(60)" font-size="10.5">21<tspan font-size="8" dx="1.2" dy="-0.6">—</tspan><tspan dx="1.2" dy="0.6">23</tspan></text>
<text class="t" transform="translate(441.8 803) rotate(60)" font-size="10.5">24<tspan font-size="8" dx="1.2" dy="-0.6">—</tspan><tspan dx="1.2" dy="0.6">26</tspan></text>
<text class="t" transform="translate(458.1 803) rotate(60)" font-size="10.5">27<tspan font-size="8" dx="1.2" dy="-0.6">—</tspan><tspan dx="1.2" dy="0.6">29</tspan></text>
<text class="t" transform="translate(474.4 803) rotate(60)" font-size="10.5">30<tspan font-size="8" dx="1.2" dy="-0.6">—</tspan><tspan dx="1.2" dy="0.6">32</tspan></text>
<text class="t" transform="translate(490.7 803) rotate(60)" font-size="10.5">33<tspan font-size="8" dx="1.2" dy="-0.6">—</tspan><tspan dx="1.2" dy="0.6">35</tspan></text>
<text class="t" transform="translate(507 803) rotate(60)" font-size="10.5">36<tspan font-size="8" dx="1.2" dy="-0.6">—</tspan><tspan dx="1.2" dy="0.6">38</tspan></text>
<text class="t" transform="translate(523.3 803) rotate(60)" font-size="10.5">39<tspan font-size="8" dx="1.2" dy="-0.6">—</tspan><tspan dx="1.2" dy="0.6">41</tspan></text>
<text class="xt" x="96" y="856" font-size="13.7">Sediment depth (cm)</text>
<text class="xt" x="385.8" y="854.2" font-size="13.7">Sediment depth (cm)</text>
</svg></body></html>
